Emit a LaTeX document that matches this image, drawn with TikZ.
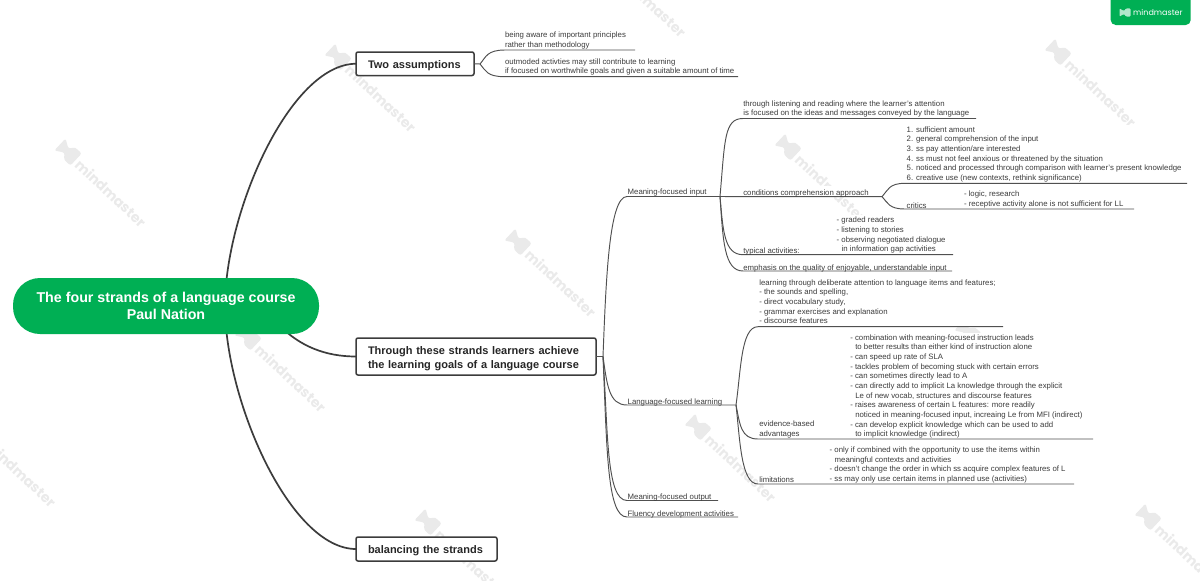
\documentclass[tikz,border=0pt]{standalone}
\usepackage{fontspec}
\setmainfont{Liberation Sans}
\newfontfamily\wmfont{Poppins}
\definecolor{mmgreen}{HTML}{00AF54}
\definecolor{ink}{HTML}{3C3C3C}
\definecolor{wmgrey}{HTML}{EAEAEA}
\newcommand{\linebox}[5]{\node[linebox,minimum width={#4-#2},minimum height={#5-#3},anchor=south west] (#1) at (#2,#5) {};}
\newcommand{\mmlogo}[2]{\fill[#2,rounded corners=#1*2pt] (-10*#1,-7.5*#1) -- (-2*#1,-2.5*#1) -- (2*#1,-7.5*#1) -- (10*#1,-7.5*#1) -- (10*#1,7.5*#1) -- (2*#1,7.5*#1) -- (-2*#1,2.5*#1) -- (-10*#1,7.5*#1) -- cycle;}
\tikzset{
  x=1pt,y=-1pt,
  linebox/.style={inner sep=0pt,outer sep=0pt,fill=white},
  txt/.style={inner sep=0pt,outer sep=0pt,anchor=north west,yshift=3pt,align=left,text=ink,
    font=\fontsize{7.8}{9.63}\selectfont,execute at begin node=\rule{0pt}{7pt}},
  mainbox/.style={draw=ink,line width=1.5pt,fill=white,rounded corners=2pt,anchor=north west,align=left,
    inner xsep=12pt,inner ysep=0pt,outer sep=0pt,text=black!85,font=\fontsize{11}{13.8}\selectfont\bfseries,
    execute at begin node=\rule{0pt}{12pt}},
  thick link/.style={draw=ink,line width=1.7pt},
  thin link/.style={draw=ink!90,line width=0.95pt},
}
\begin{document}
\begin{tikzpicture}
\clip (0,0) rectangle (1200,581);
\fill[white] (0,0) rectangle (1200,581);
% watermarks
\foreach \wx/\wy [count=\i] in {68/152,338/57,608/-38,1058/52,788/147,518/242,248/337,-22/432,428/522,698/427,968/332,1148/517}{
  \begin{scope}[shift={(\wx,\wy)},rotate=-43]
    \mmlogo{1.1}{wmgrey}
    \node[anchor=west,inner sep=0pt,rotate=-43,text=wmgrey,font=\wmfont\fontsize{14}{14}\selectfont\bfseries] (wm\i) at (14,1) {mindmaster};
  \end{scope}
}
% main links (behind the root)
\coordinate (rootTop) at (225,306);
\coordinate (rootMid) at (280,326);
% boxes hiding the watermark, their lower edges carry the underlines
\linebox{a1}{505}{30}{635}{50}
\linebox{a2}{505}{57}{738}{76.7}
\linebox{inp}{627}{185}{720}{196.5}
\linebox{lang}{627}{395}{736}{405}
\linebox{out}{627}{490}{718}{500.5}
\linebox{flu}{627}{507}{738}{517}
\linebox{t1}{743}{99}{976}{118.5}
\linebox{cond}{743}{186}{882}{196.7}
\linebox{typ}{743}{215}{953}{254.7}
\linebox{emph}{743}{261}{952}{271}
\linebox{list}{905}{125}{1187}{183.3}
\linebox{crit}{905}{189}{1134}{209}
\linebox{delib}{758}{278}{1003}{326.7}
\linebox{evid}{758}{333}{1093}{439}
\linebox{limit}{758}{445}{1074}{484}
% main nodes
\node[mainbox,minimum height=23.5pt,text width=94pt] (two) at (356,52) {\mbox{Two assumptions}};
\node[mainbox,minimum height=37pt,text width=216pt] (through) at (356,338) {\mbox{Through these strands learners achieve}\\\mbox{the learning goals of a language course}};
\node[mainbox,minimum height=24pt,text width=117pt] (bal) at (356,537) {\mbox{balancing the strands}};
\draw[thick link] (rootTop) .. controls (225,212) and (290,64) .. (two.west);
\draw[thick link] (rootTop) .. controls (225,400) and (290,549) .. (bal.west);
\draw[thick link] (rootMid) .. controls (300,346) and (325,356.5) .. (through.west);
% hubs
\coordinate (hubTwo) at (480,64);
\coordinate (hubThr) at (603,356.5);
\coordinate (hubInp) at (720,196.5);
\coordinate (hubLang) at (736,405);
\coordinate (hubCond) at (882,196.7);
\draw[thin link] (two.east) -- (hubTwo);
\draw[thin link] (through.east) -- (hubThr);
\draw[thin link] (hubTwo) .. controls (486,57) and (487,50) .. (a1.south west) -- (a1.south east);
\draw[thin link] (hubTwo) .. controls (486,71) and (487,76.7) .. (a2.south west) -- (a2.south east);
\draw[thin link] (hubThr) .. controls (606,280) and (609,196.5) .. (inp.south west) -- (hubInp);
\draw[thin link] (hubThr) .. controls (607,385) and (609,405) .. (lang.south west) -- (hubLang);
\draw[thin link] (hubThr) .. controls (608,430) and (606,500.5) .. (out.south west) -- (out.south east);
\draw[thin link] (hubThr) .. controls (607,450) and (607,517) .. (flu.south west) -- (flu.south east);
\draw[thin link] (hubInp) .. controls (725,140) and (724,118.5) .. (t1.south west) -- (t1.south east);
\draw[thin link] (hubInp) .. controls (730,196.5) and (733,196.7) .. (cond.south west) -- (hubCond);
\draw[thin link] (hubInp) .. controls (723,230) and (724,254.7) .. (typ.south west) -- (typ.south east);
\draw[thin link] (hubInp) .. controls (723,240) and (724,271) .. (emph.south west) -- (emph.south east);
\draw[thin link] (hubCond) .. controls (888,190) and (889,183.3) .. (list.south west) -- (list.south east);
\draw[thin link] (hubCond) .. controls (888,203) and (889,209) .. (crit.south west) -- (crit.south east);
\draw[thin link] (hubLang) .. controls (741,370) and (741,326.7) .. (delib.south west) -- (delib.south east);
\draw[thin link] (hubLang) .. controls (740,425) and (741,439) .. (evid.south west) -- (evid.south east);
\draw[thin link] (hubLang) .. controls (740,440) and (741,484) .. (limit.south west) -- (limit.south east);
% root
\node[fill=mmgreen,rounded corners=27pt,minimum width=306pt,minimum height=56pt,inner sep=0pt,align=center,text=white,
  font=\fontsize{14.25}{17.2}\selectfont\bfseries,execute at begin node=\rule{0pt}{15pt}] (root) at (166,306) {The four strands of a language course\\Paul Nation};
% texts
\node[txt] (ta1) at (505,35) {being aware of important principles\\rather than methodology};
\node[txt] (ta2) at (505,61.5) {outmoded activties may still contribute to learning\\if focused on worthwhile goals and given a suitable amount of time};
\node[txt] (tinp) at (627.7,190) {Meaning-focused input};
\node[txt] (tlang) at (627.7,400) {Language-focused learning};
\node[txt] (tout) at (627.7,495.3) {Meaning-focused output};
\node[txt] (tflu) at (627.7,512.3) {Fluency development activities};
\node[txt] (tt1) at (743.3,103.7) {through listening and reading where the learner's attention\\is focused on the ideas and messages conveyed by the language};
\node[txt] (tcond) at (743.3,191) {conditions comprehension approach};
\node[txt] (tlist) at (906.7,129.7) {1. sufficient amount\\2. general comprehension of the input\\3. ss pay attention/are interested\\4. ss must not feel anxious or threatened by the situation\\5. noticed and processed through comparison with learner's present knowledge\\6. creative use (new contexts, rethink significance)};
\node[txt] (tcrit) at (906.7,204) {critics};
\node[txt] (tcrit2) at (964,194.3) {- logic, research\\- receptive activity alone is not sufficient for LL};
\node[txt] (ttyp) at (743.3,249.3) {typical activities:};
\node[txt] (ttyp2) at (836.7,220.3) {- graded readers\\- listening to stories\\- observing negotiated dialogue\\\hspace*{5pt}in information gap activities};
\node[txt] (temph) at (743.3,266) {emphasis on the quality of enjoyable, understandable input};
\node[txt] (tdelib) at (759.3,282.7) {learning through deliberate attention to language items and features;\\- the sounds and spelling,\\- direct vocabulary study,\\- grammar exercises and explanation\\- discourse features};
\node[txt] (tevid) at (759.3,424) {evidence-based\\advantages};
\node[txt] (tevid2) at (850.3,337.7) {- combination with meaning-focused instruction leads\\\hspace*{5pt}to better results than either kind of instruction alone\\- can speed up rate of SLA\\- tackles problem of becoming stuck with certain errors\\- can sometimes directly lead to A\\- can directly add to implicit La knowledge through the explicit\\\hspace*{5pt}Le of new vocab, structures and discourse features\\- raises awareness of certain L features: more readily\\\hspace*{5pt}noticed in meaning-focused input, increaing Le from MFI (indirect)\\- can develop explicit knowledge which can be used to add\\\hspace*{5pt}to implicit knowledge (indirect)};
\node[txt] (tlim) at (759.3,478.7) {limitations};
\node[txt] (tlim2) at (829.7,450) {- only if combined with the opportunity to use the items within\\\hspace*{5pt}meaningful contexts and activities\\- doesn't change the order in which ss acquire complex features of L\\- ss may only use certain items in planned use (activities)};
% badge
\fill[mmgreen,rounded corners=5pt] (1110.7,-8) rectangle (1190.7,25);
\begin{scope}[shift={(1125,12.5)}]
  \mmlogo{0.55}{white!70!mmgreen}
\end{scope}
\node[anchor=west,inner sep=0pt,text=white,font=\wmfont\fontsize{8}{10}\selectfont] (badge) at (1133,12.5) {mindmaster};
\end{tikzpicture}
\end{document}
